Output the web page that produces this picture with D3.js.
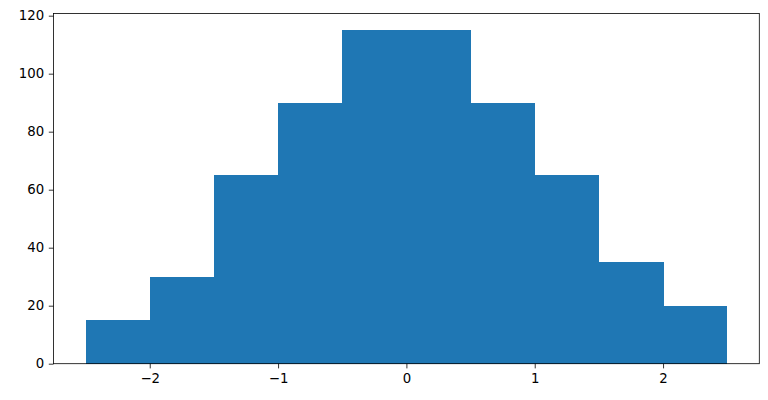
<!DOCTYPE html>
<html><head><meta charset="utf-8">
<script src="https://cdn.jsdelivr.net/npm/d3@7"></script>
<style>body{margin:0;background:#fff}svg{display:block}</style>
</head><body>
<svg id="c" width="768" height="400"></svg>
<script>
const binEdges = [-2.5,-2,-1.5,-1,-0.5,0,0.5,1,1.5,2,2.5];
const counts = [15,30,65,90,115,115,90,65,35,20];
const xTicks = [-2,-1,0,1,2];
const yTicks = [0,20,40,60,80,100,120];

const svg = d3.select('#c');
const L=53.5, R=759.3, T=13.5, B=363.7;
const x = d3.scaleLinear().domain([-2.75,2.75]).range([L,R]);
const y = d3.scaleLinear().domain([0,120.75]).range([B,T]);

const bins = counts.map((c,i)=>({x0:binEdges[i],x1:binEdges[i+1],c}));
svg.append('g').attr('shape-rendering','crispEdges').selectAll('rect').data(bins).join('rect')
  .attr('x',d=>x(d.x0)).attr('width',d=>x(d.x1)-x(d.x0)+(d.x1<2.5?0.6:0))
  .attr('y',d=>y(d.c)).attr('height',d=>y(0)-y(d.c))
  .attr('fill','#1f77b4');

const font = 'DejaVu Sans, sans-serif';
const fmt = d=> d<0 ? '\u2212'+Math.abs(d) : String(d);
const xa = svg.append('g').attr('transform',`translate(0,${B})`)
  .call(d3.axisBottom(x).tickValues(xTicks).tickSize(4.7).tickPadding(4.7).tickFormat(fmt));
const ya = svg.append('g').attr('transform',`translate(${L},0)`)
  .call(d3.axisLeft(y).tickValues(yTicks).tickSize(4.7).tickPadding(4.7).tickFormat(fmt));
[xa,ya].forEach(a=>{
  a.select('.domain').remove();
  a.selectAll('line').attr('stroke','#000').attr('stroke-width',0.8);
  a.selectAll('text').attr('fill','#000').style('font-family',font).style('font-size','13.3px');
});
svg.append('rect').attr('x',L).attr('y',T).attr('width',R-L).attr('height',B-T)
  .attr('fill','none').attr('stroke','#000').attr('stroke-width',0.8);
</script>
</body></html>
